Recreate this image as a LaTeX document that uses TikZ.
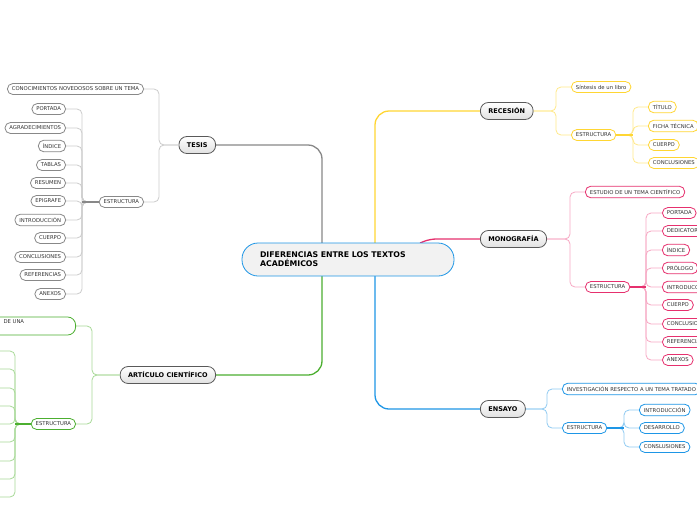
\documentclass[tikz,border=0pt]{standalone}
\usepackage{fontspec}
\setmainfont{DejaVu Sans}
\begin{document}
\begin{tikzpicture}[x=1pt,y=-1pt,
  main/.style={draw=black!65,line width=0.8pt,rounded corners=8pt,top color=white,bottom color=black!12,font=\bfseries\fontsize{6.5}{7}\selectfont,minimum height=17pt,inner xsep=8pt},
  sub/.style={draw,fill=white,line width=0.8pt,rounded corners=5.5pt,font=\fontsize{5.3}{6}\selectfont,minimum height=11pt,inner xsep=4.5pt,text=black!80},
  lk/.style={line width=0.8pt,rounded corners=5pt}]
\definecolor{Y}{HTML}{FFD633}\definecolor{Yl}{HTML}{FFE98A}
\definecolor{P}{HTML}{E6306E}\definecolor{Pl}{HTML}{F7A8C4}
\definecolor{B}{HTML}{1E96E6}\definecolor{Bl}{HTML}{90CBF2}
\definecolor{G}{HTML}{4CAF30}\definecolor{Gl}{HTML}{A8DA98}
\definecolor{K}{HTML}{888888}\definecolor{Kl}{HTML}{CCCCCC}
\begin{scope}
\clip (0,0) rectangle (697,520);
\fill[white] (0,0) rectangle (697,520);
% main branch lines
\coordinate (cL) at (322,250);
\coordinate (cR) at (375,250);
\coordinate (cM) at (420,243);
\draw[K,line width=1.3pt,rounded corners=14pt] (cL) -- (322,145) -- (216,145) coordinate (tE);
\draw[G,line width=1.3pt,rounded corners=14pt] (cL) -- (322,375) -- (216,375) coordinate (aE);
\draw[Y,line width=1.3pt,rounded corners=14pt] (cR) -- (375,111) -- (480,111) coordinate (rW);
\draw[B,line width=1.3pt,rounded corners=14pt] (cR) -- (375,409) -- (480,409) coordinate (eW);
\draw[P,line width=1.3pt,rounded corners=6pt] (cM) -- (430,239) -- (480,239) coordinate (mW);
% center
\node[draw=B,line width=0.8pt,fill=white!95!black,rounded corners=16pt,minimum width=212pt,minimum height=33pt,font=\bfseries\fontsize{7.8}{9}\selectfont,align=left,text width=176pt] (center) at (348,259.5) {DIFERENCIAS ENTRE LOS TEXTOS\\ACADÉMICOS};
% main nodes
\node[main,anchor=east] (tesis) at (216,145) {TESIS};
\node[main,anchor=east] (art) at (216,375) {ARTÍCULO CIENTÍFICO};
\node[main,anchor=west] (rec) at (480,111) {RECESIÓN};
\node[main,anchor=west] (mono) at (480,239) {MONOGRAFÍA};
\node[main,anchor=west] (ens) at (480,409) {ENSAYO};
% TESIS
\node[sub,draw=K,anchor=east] (tc) at (144,89) {CONOCIMIENTOS NOVEDOSOS SOBRE UN TEMA};
\node[sub,draw=K,anchor=east] (te) at (144,202) {ESTRUCTURA};
\draw[Kl,lk] (tesis.west) -- (159,145) -- (159,89) -- (tc.east);
\draw[Kl,lk] (tesis.west) -- (159,145) -- (159,202) -- (te.east);
\foreach \t/\y [count=\i] in {PORTADA/109,AGRADECIMIENTOS/128,ÍNDICE/146,TABLAS/165,RESUMEN/183,EPIGRAFE/201,INTRODUCCIÓN/220,CUERPO/238,CONCLUSIONES/257,REFERENCIAS/275,ANEXOS/294}{
  \node[sub,draw=K,anchor=east] (t\i) at (66,\y) {\t};
  \draw[Kl,lk] (te.west) -- (82,202) -- (82,\y) -- (t\i.east);
}
\draw[K,line width=1.2pt] (te.west) -- (82,202);
% ARTICULO
\node[sub,draw=G,anchor=east,minimum width=120pt,minimum height=18pt,rounded corners=8pt] (ac) at (76,326) {};
\node[font=\fontsize{5.3}{6}\selectfont,anchor=west,text=black!80] (act) at (0,322) {DE UNA};
\node[sub,draw=G,anchor=east] (ae) at (76,424) {ESTRUCTURA};
\draw[Gl,lk] (art.west) -- (92,375) -- (92,326) -- (ac.east);
\draw[Gl,lk] (art.west) -- (92,375) -- (92,424) -- (ae.east);
\foreach \y [count=\i] in {351,369,388,406,424,442,461,479,497}{
  \coordinate (a\i) at (-2,\y);
  \draw[Gl,lk] (ae.west) -- (15,424) -- (15,\y) -- (a\i);
}
\draw[G,line width=1.2pt] (ae.west) -- (15,424);
% RECESION
\node[sub,draw=Y,anchor=west] (rs) at (571,87) {Síntesis de un libro};
\node[sub,draw=Y,anchor=west] (re) at (571,135) {ESTRUCTURA};
\draw[Yl,lk] (rec.east) -- (556,111) -- (556,87) -- (rs.west);
\draw[Yl,lk] (rec.east) -- (556,111) -- (556,135) -- (re.west);
\foreach \t/\y [count=\i] in {TÍTULO/107,FICHA TÉCNICA/126,CUERPO/145,CONCLUSIONES/163}{
  \node[sub,draw=Y,anchor=west] (r\i) at (648,\y) {\t};
  \draw[Yl,lk] (re.east) -- (633,135) -- (633,\y) -- (r\i.west);
}
\draw[Y,line width=1.2pt] (re.east) -- (633,135);
% MONOGRAFIA
\node[sub,draw=P,anchor=west] (ms) at (585,192) {ESTUDIO DE UN TEMA CIENTÍFICO};
\node[sub,draw=P,anchor=west] (me) at (585,287) {ESTRUCTURA};
\draw[Pl,lk] (mono.east) -- (570,239) -- (570,192) -- (ms.west);
\draw[Pl,lk] (mono.east) -- (570,239) -- (570,287) -- (me.west);
\foreach \t/\y [count=\i] in {PORTADA/213,DEDICATORIA/231,ÍNDICE/250,PRÓLOGO/268,INTRODUCCIÓN/287,CUERPO/305,CONCLUSIONES/324,REFERENCIAS/342,ANEXOS/360}{
  \node[sub,draw=P,anchor=west] (m\i) at (662,\y) {\t};
  \draw[Pl,lk] (me.east) -- (646,287) -- (646,\y) -- (m\i.west);
}
\draw[P,line width=1.2pt] (me.east) -- (646,287);
% ENSAYO
\node[sub,draw=B,anchor=west] (es) at (562,389) {INVESTIGACIÓN RESPECTO A UN TEMA TRATADO};
\node[sub,draw=B,anchor=west] (ee) at (562,428) {ESTRUCTURA};
\draw[Bl,lk] (ens.east) -- (547,409) -- (547,389) -- (es.west);
\draw[Bl,lk] (ens.east) -- (547,409) -- (547,428) -- (ee.west);
\foreach \t/\y [count=\i] in {INTRODUCCIÓN/410,DESARROLLO/428,CONSLUSIONES/447}{
  \node[sub,draw=B,anchor=west] (e\i) at (639,\y) {\t};
  \draw[Bl,lk] (ee.east) -- (624,428) -- (624,\y) -- (e\i.west);
}
\draw[B,line width=1.2pt] (ee.east) -- (624,428);
\end{scope}
\useasboundingbox (0,0) rectangle (697,520);
\end{tikzpicture}
\end{document}
